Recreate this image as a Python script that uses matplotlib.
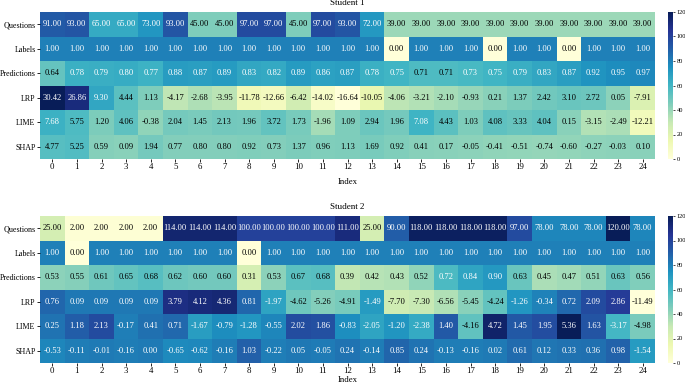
import numpy as np
import matplotlib
matplotlib.use("Agg")
import matplotlib.pyplot as plt
from matplotlib.colors import Normalize

plt.rcParams['font.family'] = ['Liberation Serif', 'DejaVu Serif']

row_names = ["Questions", "Labels", "Predictions", "LRP", "LIME", "SHAP"]
index = list(range(25))

# Student 1
questions1 = [91, 93, 65, 65, 73, 93, 45, 45, 97, 97, 45, 97, 93, 72, 39, 39, 39, 39, 39, 39, 39, 39, 39, 39, 39]
labels1 = [1, 1, 1, 1, 1, 1, 1, 1, 1, 1, 1, 1, 1, 1, 0, 1, 1, 1, 0, 1, 1, 0, 1, 1, 1]
preds1 = [0.64, 0.78, 0.79, 0.80, 0.77, 0.88, 0.87, 0.89, 0.83, 0.82, 0.89, 0.86, 0.87, 0.78, 0.75,
          0.71, 0.71, 0.73, 0.75, 0.79, 0.83, 0.87, 0.92, 0.95, 0.97]
lrp1 = [30.42, 26.86, 9.30, 4.44, 1.13, -4.17, -2.68, -3.95, -11.78, -12.66, -6.42, -14.02, -16.64,
        -10.05, -4.06, -3.21, -2.10, -0.93, 0.21, 1.37, 2.42, 3.10, 2.72, 0.05, -7.91]
lime1 = [7.68, 5.75, 1.20, 4.06, -0.38, 2.04, 1.45, 2.13, 1.96, 3.72, 1.73, -1.96, 1.09, 2.94, 1.96,
         7.08, 4.43, 1.03, 4.08, 3.33, 4.04, 0.15, -3.15, -2.49, -12.21]
shap1 = [4.77, 5.25, 0.59, 0.09, 1.94, 0.77, 0.80, 0.80, 0.92, 0.73, 1.37, 0.96, 1.13, 1.69, 0.92,
         0.41, 0.17, -0.05, -0.41, -0.51, -0.74, -0.60, -0.27, -0.03, 0.10]

# Student 2
questions2 = [25, 2, 2, 2, 2, 114, 114, 114, 100, 100, 100, 100, 111, 25, 90, 118, 118, 118, 118, 97, 78, 78, 78, 120, 78]
labels2 = [1, 0, 1, 1, 1, 1, 1, 1, 0, 1, 1, 1, 1, 1, 1, 1, 1, 1, 1, 1, 1, 1, 1, 1, 1]
preds2 = [0.53, 0.55, 0.61, 0.65, 0.68, 0.62, 0.60, 0.60, 0.31, 0.53, 0.67, 0.68, 0.39, 0.42, 0.43,
          0.52, 0.72, 0.84, 0.90, 0.63, 0.45, 0.47, 0.51, 0.63, 0.56]
lrp2 = [0.76, 0.09, 0.09, 0.09, 0.09, 3.79, 4.12, 4.36, 0.81, -1.97, -4.62, -5.26, -4.91, -1.49, -7.70,
        -7.30, -6.56, -5.45, -4.24, -1.26, -0.34, 0.72, 2.09, 2.86, -11.49]
lime2 = [0.25, 1.18, 2.13, -0.17, 0.41, 0.71, -1.67, -0.79, -1.28, -0.55, 2.02, 1.86, -0.83, -2.05, -1.20,
         -2.38, 1.40, -4.16, 4.72, 1.45, 1.95, 5.36, 1.63, -3.17, -4.98]
shap2 = [-0.53, -0.11, -0.01, -0.16, 0.00, -0.65, -0.62, -0.16, 1.03, -0.22, 0.05, -0.05, 0.24, -0.14, 0.85,
         0.24, -0.13, -0.16, 0.02, 0.61, 0.12, 0.33, 0.36, 0.98, -1.54]

VMAX = 120
cmap = plt.get_cmap("YlGnBu")
norm = Normalize(0, VMAX)


def color_values(q, lab, pr, lrp, lime, shap):
    attr = np.array([lrp, lime, shap], dtype=float)
    amin, amax = attr.min(), attr.max()
    attr_s = (attr - amin) / (amax - amin) * VMAX
    top = np.array([q, np.array(lab) * 80.0, np.array(pr) * 80.0], dtype=float)
    return np.vstack([top, attr_s])


def rel_lum(rgb):
    rgb = np.where(rgb <= .03928, rgb / 12.92, ((rgb + .055) / 1.055) ** 2.4)
    return rgb.dot([.2126, .7152, .0722])


W, H = 685, 385
fig = plt.figure(figsize=(W / 100, H / 100), dpi=100)
AXH_PX = 147.0


def draw(ax_rect, cax_rect, title, q, lab, pr, lrp, lime, shap, index_off):
    ax = fig.add_axes(ax_rect)
    cax = fig.add_axes(cax_rect)
    raw = np.array([q, lab, pr, lrp, lime, shap], dtype=float)
    cv = color_values(q, lab, pr, lrp, lime, shap)
    mesh = ax.pcolormesh(np.arange(26), np.arange(7), cv, cmap=cmap, norm=norm, linewidth=0)
    ax.set_xlim(0, 25)
    ax.set_ylim(6, 0)
    rgba = cmap(norm(cv))
    for i in range(6):
        for j in range(25):
            lum = rel_lum(np.array(rgba[i, j, :3]))
            c = "#000000" if lum > .408 else "#ffffff"
            ax.text(j + 0.5, i + 0.5, f"{raw[i, j]:.2f}", ha="center", va="center",
                    fontsize=6.1, color=c)
    ax.set_xticks(np.arange(25) + 0.5)
    ax.set_xticklabels([str(v) for v in index], fontsize=6.3)
    ax.set_yticks(np.arange(6) + 0.5)
    ax.set_yticklabels(row_names, fontsize=5.8)
    ax.tick_params(length=2.2, width=0.6, pad=1)
    for s in ax.spines.values():
        s.set_visible(False)
    ax.text(0.5, -index_off / AXH_PX, "Index", transform=ax.transAxes, ha="center",
            va="center", fontsize=6.3)
    ax.text(0.5, 1 + 9 / AXH_PX, title, transform=ax.transAxes, ha="center",
            va="center", fontsize=6.5)
    cb = fig.colorbar(mesh, cax=cax)
    cb.outline.set_visible(False)
    cb.set_ticks([0, 20, 40, 60, 80, 100, 120])
    cb.ax.tick_params(labelsize=4.6, length=1.5, width=0.5, pad=0.8)


axw = 615 / W
axh = AXH_PX / H
cbx = 667.7 / W
cbw = 5.6 / W
draw([40 / W, 1 - 159 / H, axw, axh], [cbx, 1 - 159 / H, cbw, axh], "Student 1",
     questions1, labels1, preds1, lrp1, lime1, shap1, 22.5)
draw([40 / W, 1 - 363 / H, axw, axh], [cbx, 1 - 363 / H, cbw, axh], "Student 2",
     questions2, labels2, preds2, lrp2, lime2, shap2, 17.5)

fig.savefig("out.png", dpi=100)
